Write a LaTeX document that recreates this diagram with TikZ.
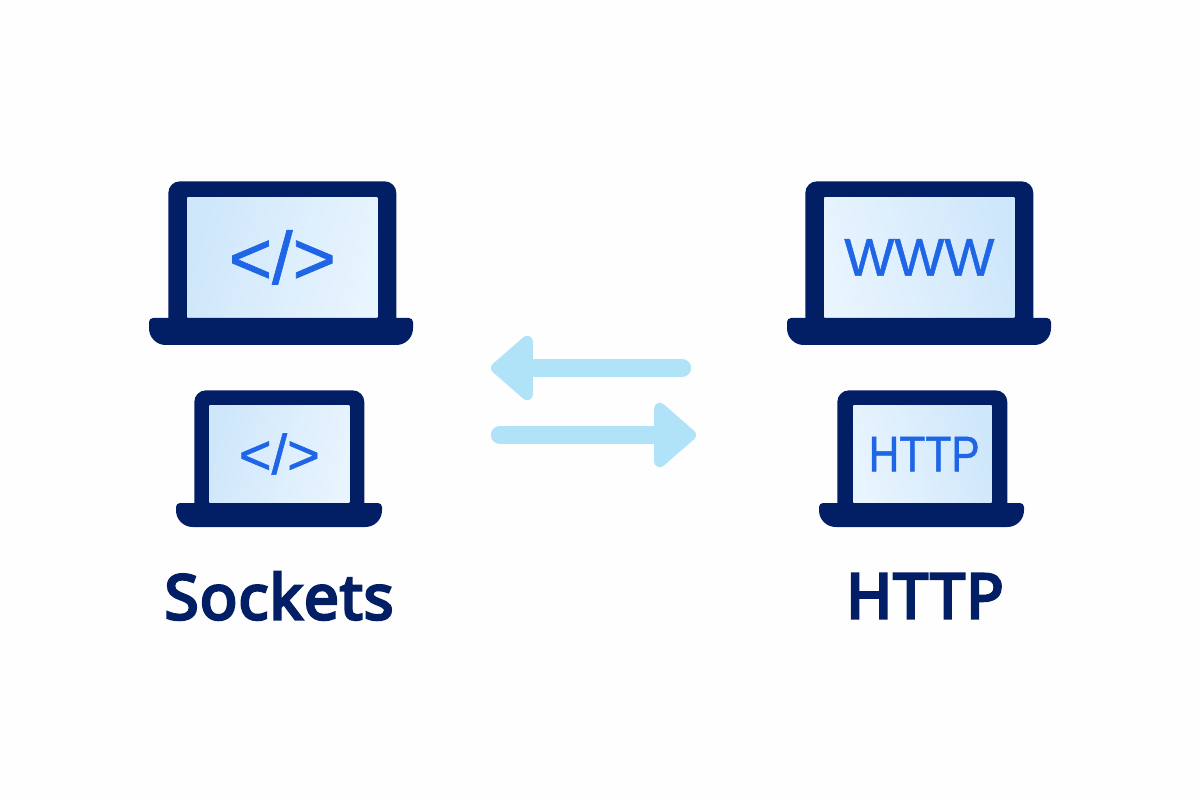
\documentclass[tikz,border=0pt]{standalone}
\usepackage{fontspec}
\newfontfamily\codefont{Liberation Sans}[FakeBold=1]
\newfontfamily\labelfont{Noto Sans}[FakeBold=4.5,LetterSpace=2]
\usetikzlibrary{arrows.meta,calc}
\definecolor{navy}{HTML}{021F66}
\definecolor{codeblue}{HTML}{1F66E6}
\definecolor{scrdark}{HTML}{CFE7FB}
\definecolor{scrlight}{HTML}{E8F4FE}
\definecolor{arrowblue}{HTML}{B0E2F8}
\newcommand{\pxfont}[1]{\fontsize{\dimexpr#1pt*6/10\relax}{\dimexpr#1pt*7/10\relax}\selectfont}
\newcommand{\lapbase}[4]{\fill[navy] (#1/2+#2/2,#3) [rounded corners=2.4pt] -- (#2,#3) [rounded corners=10pt] -- (#2,#4) -- (#1,#4) [rounded corners=2.4pt] -- (#1,#3) -- cycle;}
\tikzset{
  body/.style={fill=navy,rounded corners=7pt,inner sep=0pt,anchor=north west},
  screenltr/.style={inner sep=0pt,left color=scrdark,right color=scrlight,shading angle=75,anchor=north west,text=codeblue},
  screenrtl/.style={inner sep=0pt,left color=scrlight,right color=scrdark,shading angle=105,anchor=north west,text=codeblue},
  biglap/.style={minimum width=136.8pt,minimum height=90pt},
  smalllap/.style={minimum width=102pt,minimum height=76pt},
  bigscreen/.style={minimum width=114pt,minimum height=72pt},
  smallscreen/.style={minimum width=84pt,minimum height=58.5pt},
  swaparrow/.style={draw=arrowblue,line width=11pt,line cap=round,
    -{Triangle[length=27pt,width=45pt,line width=8pt,round,color=arrowblue,fill=arrowblue]}},
  lab/.style={text=navy,font=\labelfont\pxfont{62}}
}
\begin{document}
\begin{tikzpicture}[x=0.6pt,y=-0.6pt]
\useasboundingbox (0,0) rectangle (1200,800);
\fill[white!99.5!black] (0,0) rectangle (1200,800);
% left big
\node[body,biglap] (lapA) at (168,181) {};
\node[screenltr,bigscreen,font=\codefont\pxfont{74}] (scrA) at (187,197) {</>};
\lapbase{149}{413}{318}{345}
% left small
\node[body,smalllap] (lapB) at (194,390) {};
\node[screenltr,smallscreen,font=\codefont\pxfont{56}] (scrB) at (209,405) {</>};
\lapbase{176}{382}{503}{527}
% right big
\node[body,biglap] (lapC) at (805,181) {};
\node[screenrtl,bigscreen,font=\codefont\pxfont{53}] (scrC) at (824,197) {\raisebox{-1.2pt}{WWW}};
\lapbase{787}{1051}{318}{345}
% right small
\node[body,smalllap] (lapD) at (837,390) {};
\node[screenrtl,smallscreen,minimum width=83pt,font=\codefont\pxfont{50}] (scrD) at (853,405) {\hspace{2pt}\scalebox{0.85}[1]{HTTP}};
\lapbase{819}{1024}{503}{527}
% arrows
\coordinate (rightTop) at (682,368);
\coordinate (leftTop) at (491,368);
\coordinate (leftBot) at (500,435);
\coordinate (rightBot) at (696,435);
\draw[swaparrow] (rightTop) -- (leftTop);
\draw[swaparrow] (leftBot) -- (rightBot);
% labels
\node[lab] (sockets) at (279,596) {Sockets};
\node[lab] (http) at (925,596) {HTTP};
\end{tikzpicture}
\end{document}
